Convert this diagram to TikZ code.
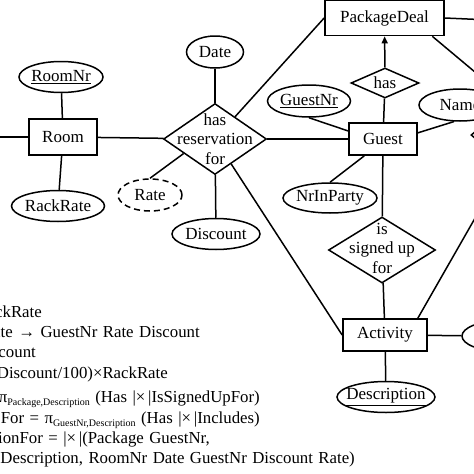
\documentclass[tikz,border=0pt]{standalone}
\usepackage{fontspec}
\setmainfont{Liberation Serif}
\newfontfamily\formfont{Liberation Serif}[WordSpace=1.3]
\usetikzlibrary{shapes.geometric,arrows.meta,calc}
\newcommand{\subtx}[1]{\raisebox{-3.5pt}{\fontsize{10}{10}\selectfont #1}}
\newcommand{\joinsym}{|×\,|}
\newcommand{\zb}[1]{\makebox[0pt]{#1}}
\begin{document}
\begin{tikzpicture}[x=1pt,y=-1pt,
  lbl/.style={font=\fontsize{17}{19.5}\selectfont, inner sep=0pt, align=center},
  ent/.style 2 args={draw, line width=1.7pt, inner sep=0pt, minimum width=#1, minimum height=#2, font=\fontsize{17}{19.5}\selectfont},
  attr/.style 2 args={draw, ellipse, line width=1.5pt, inner sep=0pt, minimum width=#1, minimum height=#2, font=\fontsize{17}{19.5}\selectfont},
  rel/.style 2 args={draw, diamond, line width=1.5pt, inner sep=0pt, minimum width=#1, minimum height=#2},
  conn/.style={line width=1.5pt},
  formula/.style={anchor=base east, inner sep=0pt, font=\formfont\fontsize{16.8}{19}\selectfont}
]
\useasboundingbox (0,0) rectangle (474,474);
\clip (0,0) rectangle (474,474);

% entities
\node[ent={68pt}{36pt}] (room) at (63,137) {Room};
\node[ent={119pt}{35pt}] (pd) at (384.5,18) {PackageDeal};
\node[ent={68pt}{32pt}] (guest) at (383,139) {Guest};
\node[ent={84pt}{32pt}] (act) at (385,335) {Activity};

% attributes
\node[attr={84pt}{31pt}] (roomnr) at (61,77) {\zb{\underline{RoomNr}}};
\node[attr={93pt}{31pt}] (rackrate) at (58,206) {\zb{RackRate}};
\node[attr={57pt}{32pt}] (date) at (215,52) {\zb{Date}};
\node[attr={64pt}{32pt}, dash pattern=on 6pt off 4pt] (rate) at (150,195) {\zb{Rate}};
\node[attr={88pt}{31pt}] (discount) at (216,234) {\zb{Discount}};
\node[attr={83pt}{32pt}] (guestnr) at (309,101) {\zb{\underline{GuestNr}}};
\node[attr={94pt}{30pt}] (nrinparty) at (330,198) {\zb{NrInParty}};
\node[attr={82pt}{32pt}] (name) at (460,105) {\zb{Name}};
\node[attr={98pt}{31pt}] (desc) at (386,397) {\zb{\underline{Description}}};
\node[attr={76pt}{30pt}] (rightell) at (500,336) {};

% relationships
\node[rel={103pt}{71pt}] (hr) at (215,139) {};
\node[lbl] (hrtxt) at (215,139) {has\\reservation\\for};
\node[rel={68pt}{30pt}] (hasrel) at (385,83) {};
\node[lbl] (hastxt) at (385,83) {has};
\node[rel={107pt}{66pt}] (isu) at (382,250) {};
\node[lbl] (isutxt) at (382,248) {is\\signed up\\for};
\node[rel={80pt}{70pt}] (incl) at (511,135) {};

% free ends
\coordinate (leftend) at (-10,137);
\coordinate (pdR) at (490,20);
\coordinate (pdR2) at (500,93);
\coordinate (actR) at (490,192);

% connectors
\draw[conn] (leftend) -- (room);
\draw[conn] (room) -- (roomnr);
\draw[conn] (room) -- (rackrate);
\draw[conn] (room) -- (hr);
\draw[conn] (hr) -- (date);
\draw[conn] ($(hr.west)!0.4!(hr.south)$) -- (rate.north);
\draw[conn] (hr) -- (discount);
\draw[conn] (hr) -- (guest);
\draw[conn] (hr) -- (pd.west);
\draw[conn] (hr) -- (act.west);
\draw[conn] (guestnr.south) -- (guest.167);
\draw[conn] (nrinparty.north) -- (guest.222);
\draw[conn] (name.250) -- (guest.10);
\draw[conn] (guest) -- (hasrel);
\draw[conn, -{Triangle[length=7pt,width=6pt]}] (hasrel) -- (pd);
\draw[conn] (pd.east) -- (pdR);
\draw[conn] ([xshift=-12.5pt]pd.south east) -- (pdR2);
\draw[conn] (guest) -- (isu);
\draw[conn] (isu) -- (act);
\draw[conn] (act) -- (desc);
\draw[conn] (act) -- (rightell);
\draw[conn] ([xshift=-10pt]act.north east) -- (actR);

% formulas (cut at the left edge)
\node[formula] (f1) at (42,317) {RoomNr → RackRate};
\node[formula] (f2) at (200,337) {RoomNr Date → GuestNr Rate Discount};
\node[formula] (f3) at (36,357) {RackRate Rate → Discount};
\node[formula] (f4) at (168,378) {Rate = (1 − Discount/100)×RackRate};
\node[formula] (f5) at (260,402) {Includes = π\subtx{Package,Description} (Has \joinsym IsSignedUpFor)};
\node[formula] (f6) at (260,423) {IsSignedUpFor = π\subtx{GuestNr,Description} (Has \joinsym Includes)};
\node[formula] (f7) at (210,443) {HasReservationFor = \joinsym(Package GuestNr,};
\node[formula] (f8) at (355,463) {Activity Description, RoomNr Date GuestNr Discount Rate)};
\end{tikzpicture}
\end{document}
